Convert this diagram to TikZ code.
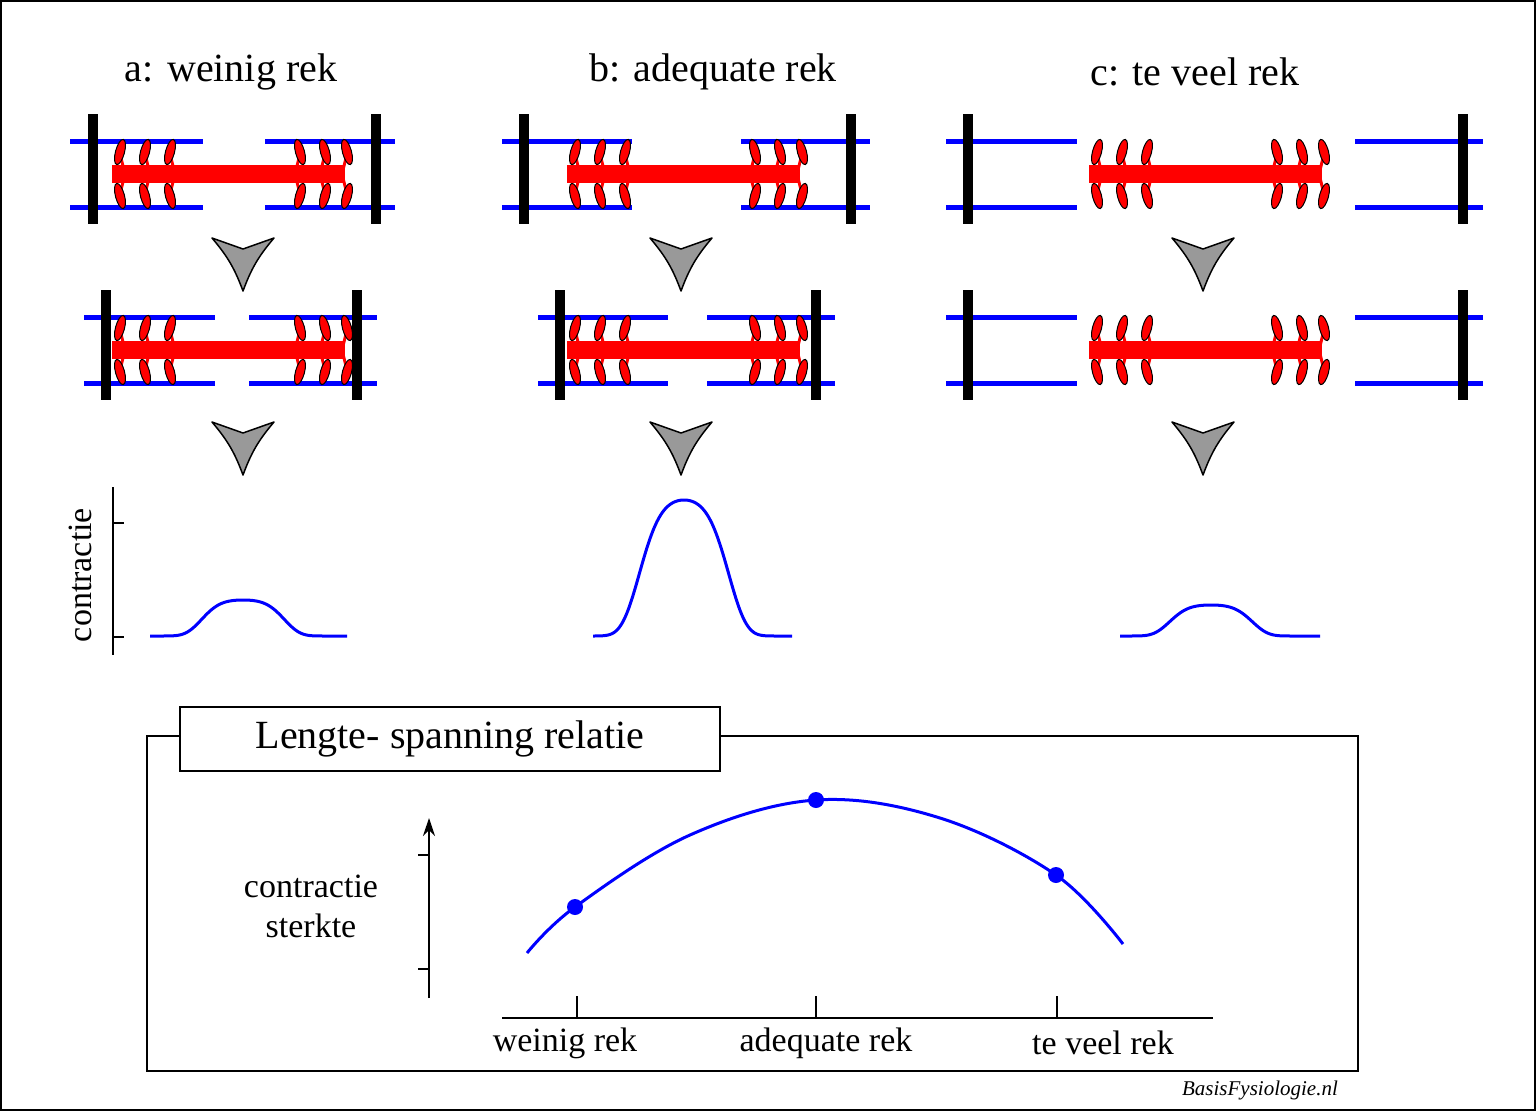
\documentclass[tikz,border=0pt]{standalone}
\usepackage{fontspec}
\usetikzlibrary{arrows.meta}
\setmainfont{Liberation Serif}
\begin{document}
\begin{tikzpicture}[x=1pt,y=-1pt,
  actin/.style={blue,line width=5pt},
  zline/.style={black,line width=10pt},
  myo/.style={red,line width=18pt},
  head/.style={fill=red,draw=black,line width=1pt},
  chev/.style={fill=gray!80,draw=black,line width=1.5pt,line join=round},
  curve/.style={blue,line width=3pt},
  ttl/.style={font=\fontsize{40}{46}\selectfont},
  lbl/.style={font=\fontsize{34}{40}\selectfont}]
\useasboundingbox (0,0) rectangle (1536,1111);
\draw[line width=2pt] (1,1) rectangle (1535,1110);
\newcommand{\headL}[2]{%
  \draw[red,line width=3pt] (#1+5,#2) -- (#1,#2-20);
  \draw[head,rotate around={-15:(#1,#2-22)}] (#1,#2-22) ellipse (4.5 and 13);
  \draw[red,line width=3pt] (#1+5,#2) -- (#1,#2+20);
  \draw[head,rotate around={15:(#1,#2+22)}] (#1,#2+22) ellipse (4.5 and 13);}
\newcommand{\headR}[2]{%
  \draw[red,line width=3pt] (#1-5,#2) -- (#1,#2-20);
  \draw[head,rotate around={15:(#1,#2-22)}] (#1,#2-22) ellipse (4.5 and 13);
  \draw[red,line width=3pt] (#1-5,#2) -- (#1,#2+20);
  \draw[head,rotate around={-15:(#1,#2+22)}] (#1,#2+22) ellipse (4.5 and 13);}
% #1 yc, #2 Zl, #3 Zr, #4 al1, #5 al2, #6 ar1, #7 ar2, #8 m1
\newcommand{\sarc}[8]{%
  \draw[actin] (#4,#1-33) -- (#5,#1-33);
  \draw[actin] (#4,#1+33) -- (#5,#1+33);
  \draw[actin] (#6,#1-33) -- (#7,#1-33);
  \draw[actin] (#6,#1+33) -- (#7,#1+33);
  \headL{#8+8}{#1}\headL{#8+33}{#1}\headL{#8+58}{#1}
  \headR{#8+188}{#1}\headR{#8+213}{#1}\headR{#8+235}{#1}
  \draw[myo] (#8,#1) -- (#8+233,#1);
  \draw[zline] (#2,#1-60) -- (#2,#1+50);
  \draw[zline] (#3,#1-60) -- (#3,#1+50);}
\sarc{174}{93}{376}{70}{203}{265}{395}{112}
\sarc{350}{106}{357}{84}{215}{249}{377}{112}
\sarc{174}{524}{851}{502}{632}{741}{870}{567}
\sarc{350}{560}{816}{538}{668}{707}{835}{567}
\sarc{174}{968}{1463}{946}{1077}{1355}{1483}{1089}
\sarc{350}{968}{1463}{946}{1077}{1355}{1483}{1089}
% titles
\node[ttl] (ta) at (231,72) {a: weinig rek};
\node[ttl] (tb) at (713,72) {b: adequate rek};
\node[ttl] (tc) at (1195,72) {c: te veel rek};
% chevrons
\foreach \cx in {243,681,1203}{
  \foreach \cy in {238,422}{
    \draw[chev] (\cx-31,\cy) -- (\cx,\cy+11) -- (\cx+31,\cy) to[bend right=10] (\cx,\cy+53) to[bend right=10] cycle;}}
% small graph axis
\draw[line width=1.5pt] (113,487) -- (113,655);
\draw[line width=1.5pt] (113,523) -- (124,523);
\draw[line width=1.5pt] (113,637) -- (124,637);
\node[lbl,rotate=90] (yl) at (80,575) {contractie};
\draw[curve,domain=150:347,samples=120] plot (\x,{636-36*exp(-0.3*((\x-243)/48)^2-((\x-243)/48)^2*((\x-243)/48)^2)});
\draw[curve,domain=593:792,samples=150] plot (\x,{636-136*exp(-0.3*((\x-684)/45)^2-0.5*((\x-684)/45)^2*((\x-684)/45)^2)});
\draw[curve,domain=1120:1320,samples=120] plot (\x,{636-31*exp(-0.3*((\x-1211)/48)^2-((\x-1211)/48)^2*((\x-1211)/48)^2)});
% bottom panel
\draw[line width=1.5pt] (147,736) rectangle (1358,1071);
\node[draw,line width=1.5pt,fill=white,minimum width=540pt,minimum height=64pt,ttl] (box) at (450,739) {Lengte- spanning relatie};
\draw[line width=1.5pt,-{Stealth[length=18pt,width=12pt]}] (429,998) -- (429,818);
\draw[line width=1.5pt] (418,855) -- (429,855);
\draw[line width=1.5pt] (418,969) -- (429,969);
\draw[line width=1.5pt] (502,1018) -- (1213,1018);
\foreach \tx in {577,816,1057} \draw[line width=1.5pt] (\tx,996) -- (\tx,1018);
\node[lbl] (l1) at (565,1043) {weinig rek};
\node[lbl] (l2) at (826,1043) {adequate rek};
\node[lbl] (l3) at (1103,1043) {te veel rek};
\node[lbl,align=center] (yy) at (311,906) {contractie\\sterkte};
\draw[curve] plot[smooth,tension=0.6] coordinates {(527,953) (575,907) (690,835) (816,800) (940,818) (1056,875) (1123,944)};
\fill[blue] (575,907) circle (8) (816,800) circle (8) (1056,875) circle (8);
\node[font=\fontsize{21}{24}\selectfont\itshape] (ft) at (1260,1090) {BasisFysiologie.nl};
\end{tikzpicture}
\end{document}
